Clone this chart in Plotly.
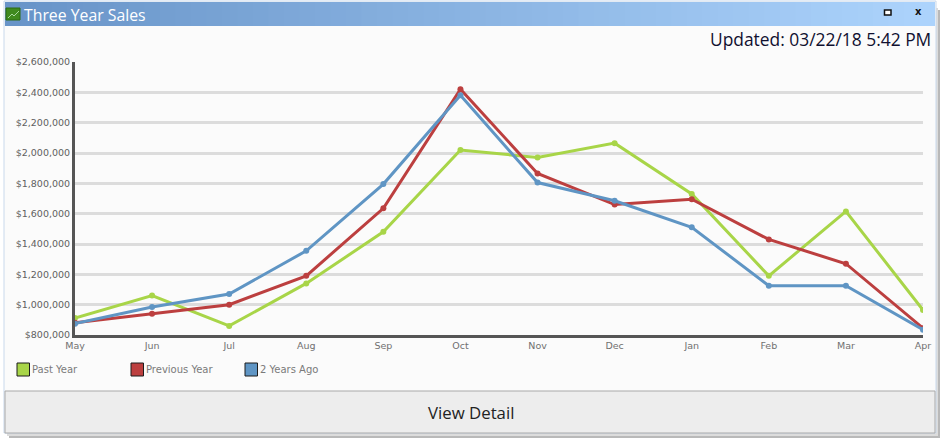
import plotly.graph_objects as go

months = ["May","Jun","Jul","Aug","Sep","Oct","Nov","Dec","Jan","Feb","Mar","Apr"]
past_year = [912000,1060000,860000,1140000,1480000,2020000,1970000,2065000,1730000,1190000,1615000,965000]
previous_year = [880000,940000,1000000,1190000,1635000,2420000,1865000,1660000,1695000,1430000,1270000,845000]
two_years_ago = [875000,985000,1070000,1355000,1795000,2380000,1805000,1685000,1510000,1125000,1125000,835000]
series_names = ["Past Year","Previous Year","2 Years Ago"]
series_colors = ["#A8D548","#BC3F3F","#5F95C4"]
y_ticks = list(range(800000,2600001,200000))
y_labels = [f"${v:,}" for v in y_ticks]

W,H = 940,440
L,R,T,B = 75,923,62,335
def px(x): return x/W
def py(y): return 1-y/H

shapes=[]
def rect(x0,y0,x1,y1,fill,line=None,lw=1,layer="below"):
    shapes.append(dict(type="rect",xref="paper",yref="paper",x0=px(x0),x1=px(x1),y0=py(y0),y1=py(y1),
        fillcolor=fill,line=dict(color=line or "rgba(0,0,0,0)",width=lw if line else 0),layer=layer))

# window shadow and body
rect(9,10,940,438,"#b9b9b9")
rect(7,8,938,436,"#dcdcdc")
rect(4,1,936,433,"#fbfbfb","#c9d9ec",1)

# title bar gradient
c0=(104,148,200); c1=(172,211,252)
n=60
for i in range(n):
    t=i/(n-1)
    col="rgb(%d,%d,%d)"%tuple(round(a+(b-a)*t) for a,b in zip(c0,c1))
    x0=5+i*(935-5)/n; x1=5+(i+1)*(935-5)/n+0.5
    rect(x0,2,min(x1,935),26,col)

# icon
rect(6,8,20,20,"#3f8a1e","#2c6a12",1)
shapes.append(dict(type="path",xref="paper",yref="paper",layer="below",
    path=f"M {px(8)} {py(18)} L {px(12)} {py(14)} L {px(14)} {py(16)} L {px(19)} {py(11)}",
    line=dict(color="#a8d8a0",width=1)))

# window buttons
rect(884.5,10,891,15,"#ffffff","#111111",1.5)

# button
rect(5,391,935,433,"#ededed","#a9a9a9",1)

# legend
legend_x=[17,131,245]
annotations=[]
for x,name,c in zip(legend_x,series_names,series_colors):
    rect(x,363,x+12.5,376,c,"#1d1d1d",1)
    annotations.append(dict(x=px(x+12.5),y=py(369.5),xref="paper",yref="paper",text=name,showarrow=False,
        xanchor="left",yanchor="middle",font=dict(family="DejaVu Sans",size=10,color="#7a7a7a")))

annotations += [
 dict(x=px(21.5),y=py(15),xref="paper",yref="paper",text="Three Year Sales",showarrow=False,xanchor="left",yanchor="middle",
      font=dict(family="Open Sans",size=15.8,color="#ffffff")),
 dict(x=px(933),y=py(39),xref="paper",yref="paper",text="Updated: 03/22/18 5:42 PM",showarrow=False,xanchor="right",yanchor="middle",
      font=dict(family="Open Sans",size=17.4,color="#101030")),
 dict(x=px(918),y=py(12),xref="paper",yref="paper",text="<b>x</b>",showarrow=False,xanchor="center",yanchor="middle",
      font=dict(family="DejaVu Sans",size=10,color="#111111")),
 dict(x=px(471),y=py(412.5),xref="paper",yref="paper",text="View Detail",showarrow=False,xanchor="center",yanchor="middle",
      font=dict(family="Open Sans",size=16.8,color="#222222")),
]

fig=go.Figure()
for name,vals,c in zip(series_names,[past_year,previous_year,two_years_ago],series_colors):
    fig.add_trace(go.Scatter(x=months,y=vals,name=name,mode="lines+markers",
        line=dict(color=c,width=3),marker=dict(color=c,size=6),showlegend=False))

fig.update_layout(template="none",width=W,height=H,margin=dict(l=0,r=0,t=0,b=0,pad=0,autoexpand=False),
    paper_bgcolor="#ffffff",plot_bgcolor="rgba(0,0,0,0)",
    shapes=shapes,annotations=annotations,showlegend=False,
    xaxis=dict(domain=[px(L),px(R)],range=[0,11],type="category",categoryorder="array",categoryarray=months,automargin=False,
        showgrid=False,showline=True,linecolor="#555555",linewidth=3,ticks="",
        tickfont=dict(family="DejaVu Sans",size=9.5,color="#707070"),zeroline=False,anchor="y"),
    yaxis=dict(domain=[py(B),py(T)],range=[800000,2600000],tickvals=y_ticks,ticktext=y_labels,automargin=False,
        showgrid=True,gridcolor="#dcdcdc",gridwidth=3,showline=True,linecolor="#555555",linewidth=3,ticks="",
        tickfont=dict(family="DejaVu Sans",size=9.5,color="#606060"),zeroline=False,anchor="x"))

fig.write_html("out.html",config=dict(displayModeBar=False),
    post_script="document.body.style.margin='0';document.body.style.overflow='hidden';")
